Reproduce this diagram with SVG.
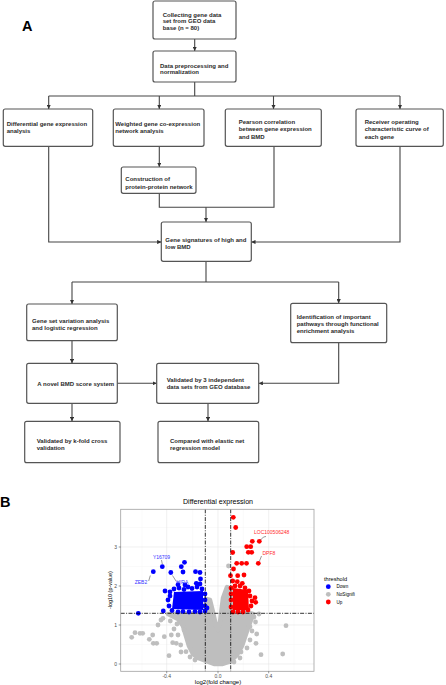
<svg xmlns="http://www.w3.org/2000/svg" width="446" height="685" viewBox="0 0 446 685">
<defs>
<marker id="ah" viewBox="0 0 10 10" refX="10" refY="5" markerWidth="4.2" markerHeight="4.2" orient="auto" markerUnits="userSpaceOnUse"><path d="M0,0 L10,5 L0,10 Z" fill="#333"/></marker>
<style>
.box{fill:#fff;stroke:#555;stroke-width:1.2}
.t{font-family:"Liberation Sans",Arial,sans-serif;font-weight:bold;font-size:6px;fill:#2b2b2b}
.c{fill:none;stroke:#444;stroke-width:1.1}
.ca{fill:none;stroke:#444;stroke-width:1.1;marker-end:url(#ah)}
.big{font-family:"Liberation Sans",Arial,sans-serif;font-weight:bold;font-size:14.5px;fill:#000}
.ax{font-family:"Liberation Sans",Arial,sans-serif;font-size:5px;fill:#4d4d4d}
.at{font-family:"Liberation Sans",Arial,sans-serif;font-size:6px;fill:#000}
.gmaj{stroke:#e6e6e6;stroke-width:0.6}
.gmin{stroke:#f3f3f3;stroke-width:0.4}
.dd{stroke:#000;stroke-width:0.8;stroke-dasharray:4 1.4 1 1.4;fill:none}
.g{fill:#bebebe}
.b{fill:#0000ff}
.r{fill:#ff0000}
.lb{font-family:"Liberation Sans",Arial,sans-serif;font-size:5px;fill:#3333ff}
.lr{font-family:"Liberation Sans",Arial,sans-serif;font-size:5px;fill:#ff2a2a}
.ld{font-family:"Liberation Sans",Arial,sans-serif;font-size:4.6px;fill:#000}
</style>
</defs>
<rect width="446" height="685" fill="#fff"/>
<text class="big" x="22" y="30.5">A</text>

<g id="connectors">
<path class="ca" d="M194.7,39 V51"/>
<path class="c" d="M194.7,82 V96 M48.7,96 H400"/>
<path class="ca" d="M48.7,96 V109"/>
<path class="ca" d="M159.3,96 V109"/>
<path class="ca" d="M273.5,96 V109"/>
<path class="ca" d="M400,96 V109"/>
<path class="ca" d="M159.3,146.3 V167"/>
<path class="c" d="M159.3,193.3 V207.3 H274 V146.3"/>
<path class="ca" d="M206,207.3 V222"/>
<path class="ca" d="M48.7,146.3 V242 H161.3"/>
<path class="ca" d="M400,146.3 V242 H251.3"/>
<path class="c" d="M206,261.3 V282 M72,282 H338.7"/>
<path class="ca" d="M72,282 V304"/>
<path class="ca" d="M338.7,282 V303.3"/>
<path class="ca" d="M72,340.7 V363.3"/>
<path class="ca" d="M117.3,383.3 H156.7"/>
<path class="ca" d="M338.7,342.7 V383.3 H258.7"/>
<path class="ca" d="M72,403.3 V421.3"/>
<path class="ca" d="M208,403.3 V421.3"/>
</g>

<g id="n1"><rect class="box" x="153" y="1" width="83" height="38" rx="2"/>
<text class="t" x="162.7" y="16.7">Collecting gene data</text><text class="t" x="162.7" y="23.3">set from GEO data</text><text class="t" x="162.7" y="30">base (n = 80)</text></g>
<g id="n2"><rect class="box" x="153" y="51" width="83" height="31" rx="2"/>
<text class="t" x="160" y="67.7">Data preprocessing and</text><text class="t" x="160" y="74.3">normalization</text></g>
<g id="n3"><rect class="box" x="3.3" y="109" width="89.4" height="37.3" rx="2"/>
<text class="t" x="6.7" y="126">Differential gene expression</text><text class="t" x="6.7" y="133.3">analysis</text></g>
<g id="n4"><rect class="box" x="113.3" y="109" width="90.7" height="37.3" rx="2"/>
<text class="t" x="115.3" y="126">Weighted gene co-expression</text><text class="t" x="115.3" y="133.3">network analysis</text></g>
<g id="n5"><rect class="box" x="225.3" y="109" width="96" height="37.3" rx="2"/>
<text class="t" x="238.7" y="124">Pearson correlation</text><text class="t" x="238.7" y="131.3">between gene expression</text><text class="t" x="238.7" y="138.7">and BMD</text></g>
<g id="n6"><rect class="box" x="356" y="109" width="87.3" height="37.3" rx="2"/>
<text class="t" x="364.7" y="124">Receiver operating</text><text class="t" x="364.7" y="131.3">characteristic curve of</text><text class="t" x="364.7" y="138.7">each gene</text></g>
<g id="n7"><rect class="box" x="121.3" y="167" width="74.7" height="26.3" rx="2"/>
<text class="t" x="125.3" y="181.3">Construction of</text><text class="t" x="125.3" y="189">protein-protein network</text></g>
<g id="n8"><rect class="box" x="161.3" y="222" width="90" height="39.3" rx="2"/>
<text class="t" x="165.3" y="242">Gene signatures of high and</text><text class="t" x="165.3" y="249.3">low BMD</text></g>
<g id="n9"><rect class="box" x="26.7" y="304" width="90.6" height="36.7" rx="2"/>
<text class="t" x="32" y="322.7">Gene set variation analysis</text><text class="t" x="32" y="330">and logistic regression</text></g>
<g id="n10"><rect class="box" x="290.7" y="303.3" width="96" height="39.4" rx="2"/>
<text class="t" x="296.7" y="318.7">Identification of important</text><text class="t" x="296.7" y="326">pathways through functional</text><text class="t" x="296.7" y="333.3">enrichment analysis</text></g>
<g id="n11"><rect class="box" x="26.7" y="363.3" width="90.6" height="40" rx="2"/>
<text class="t" x="37.3" y="386.3">A novel BMD score system</text></g>
<g id="n12"><rect class="box" x="156.7" y="363.3" width="102" height="40" rx="2"/>
<text class="t" x="166.7" y="382">Validated by 3 independent</text><text class="t" x="166.7" y="389.3">data sets from GEO database</text></g>
<g id="n13"><rect class="box" x="24.7" y="421.3" width="95.3" height="41.4" rx="2"/>
<text class="t" x="36.7" y="442.7">Validated by k-fold cross</text><text class="t" x="36.7" y="450">validation</text></g>
<g id="n14"><rect class="box" x="158" y="421.3" width="100.7" height="41.4" rx="2"/>
<text class="t" x="170" y="442.7">Compared with elastic net</text><text class="t" x="170" y="450">regression model</text></g>

<text class="big" x="0" y="506.5">B</text>
<g id="volcano">
<text x="218" y="504" text-anchor="middle" style="font-family:'Liberation Sans',Arial,sans-serif;font-size:7.1px;fill:#000">Differential expression</text>
<g class="grid">
<path class="gmin" d="M142,509.3 V671.3 M192.7,509.3 V671.3 M243.3,509.3 V671.3 M294,509.3 V671.3 M120.7,644.5 H314 M120.7,605.5 H314 M120.7,566.5 H314 M120.7,527.5 H314"/>
<path class="gmaj" d="M166.7,509.3 V671.3 M218,509.3 V671.3 M268.7,509.3 V671.3 M120.7,664 H314 M120.7,625 H314 M120.7,586 H314 M120.7,547 H314"/>
</g>
<path class="g" stroke="#bebebe" stroke-width="4.5" stroke-linejoin="round" d="M168,614 L205,614 L206,599 L210,600 L213,612 L216,626 L218,630 L220,622 L223,598 L227,587 L231,589 L235,605 L245,612 L253,614 L251,620 L248,628 L245,637 L242,646 L237,655 L231,661 L222,664 L214,664 L206,661 L198,658 L193,654 L189,646 L186,636 L183,626 L178,619 Z"/>
<g class="g">
<circle cx="131.7" cy="637.3" r="2.4"/><circle cx="135" cy="632.7" r="2.4"/><circle cx="140" cy="633.3" r="2.4"/><circle cx="142.7" cy="633.3" r="2.4"/><circle cx="149.3" cy="639.3" r="2.4"/><circle cx="153.3" cy="643.3" r="2.4"/><circle cx="156.7" cy="643.3" r="2.4"/><circle cx="152.7" cy="635" r="2.4"/><circle cx="164.3" cy="636.7" r="2.4"/><circle cx="171.3" cy="635" r="2.4"/><circle cx="172.7" cy="642.7" r="2.4"/><circle cx="169" cy="655.7" r="2.4"/><circle cx="161" cy="620" r="2.4"/><circle cx="170.3" cy="621" r="2.4"/><circle cx="158" cy="625" r="2.4"/><circle cx="163" cy="618.3" r="2.4"/><circle cx="176.3" cy="643.3" r="2.4"/><circle cx="180.7" cy="645" r="2.4"/><circle cx="178" cy="635" r="2.4"/><circle cx="186" cy="651.7" r="2.4"/><circle cx="174" cy="629" r="2.4"/><circle cx="181" cy="652" r="2.4"/><circle cx="177" cy="624" r="2.4"/><circle cx="184" cy="630" r="2.4"/><circle cx="190" cy="657" r="2.4"/><circle cx="195" cy="660" r="2.4"/>
<circle cx="286" cy="625.7" r="2.4"/><circle cx="282.7" cy="654" r="2.4"/><circle cx="261" cy="654.7" r="2.4"/><circle cx="256.7" cy="634" r="2.4"/><circle cx="256" cy="643.3" r="2.4"/><circle cx="250" cy="626.7" r="2.4"/><circle cx="254" cy="617" r="2.4"/><circle cx="255.5" cy="622" r="2.4"/><circle cx="250" cy="640" r="2.4"/><circle cx="247" cy="648" r="2.4"/><circle cx="228.5" cy="566" r="2.4"/><circle cx="252" cy="631" r="2.4"/><circle cx="241" cy="652" r="2.4"/><circle cx="207.3" cy="603.3" r="2.4"/><circle cx="259" cy="614" r="2.4"/><circle cx="240" cy="658" r="2.4"/><circle cx="234" cy="662" r="2.4"/>
</g>
<g class="b">
<path d="M174,592 L203,591 L203,610 L172,609 Z"/>
<circle cx="170" cy="592" r="2.4"/><circle cx="174" cy="589" r="2.4"/><circle cx="179" cy="588" r="2.4"/><circle cx="184" cy="589.5" r="2.4"/><circle cx="188" cy="587" r="2.4"/><circle cx="192" cy="588.5" r="2.4"/><circle cx="197" cy="587" r="2.4"/><circle cx="202" cy="589" r="2.4"/><circle cx="205" cy="594" r="2.4"/><circle cx="205" cy="600" r="2.4"/><circle cx="205" cy="606" r="2.4"/><circle cx="205" cy="611" r="2.4"/><circle cx="200" cy="612" r="2.4"/><circle cx="195" cy="611.5" r="2.4"/><circle cx="189" cy="612" r="2.4"/><circle cx="183" cy="611.5" r="2.4"/><circle cx="178" cy="612" r="2.4"/><circle cx="172" cy="610.5" r="2.4"/><circle cx="169" cy="606" r="2.4"/><circle cx="168" cy="600" r="2.4"/><circle cx="170" cy="596" r="2.4"/>
<circle cx="184.5" cy="562.3" r="2.4"/><circle cx="181.3" cy="566.7" r="2.4"/><circle cx="162.3" cy="566.7" r="2.4"/><circle cx="153.3" cy="571.7" r="2.4"/><circle cx="170.8" cy="572.5" r="2.4"/><circle cx="183" cy="572" r="2.4"/><circle cx="195.5" cy="571.7" r="2.4"/><circle cx="200" cy="572.5" r="2.4"/><circle cx="138.3" cy="613.3" r="2.4"/><circle cx="163.3" cy="611" r="2.4"/><circle cx="165" cy="591" r="2.4"/><circle cx="178" cy="584.7" r="2.4"/><circle cx="196.3" cy="583.3" r="2.4"/><circle cx="200" cy="584" r="2.4"/><circle cx="185" cy="585" r="2.4"/><circle cx="200.5" cy="579" r="2.4"/><circle cx="207" cy="608" r="2.4"/>
</g>
<g class="r">
<path d="M233,588 L248,590 L249,610 L233,610 Z"/>
<circle cx="231" cy="588" r="2.4"/><circle cx="235" cy="586" r="2.4"/><circle cx="240" cy="586" r="2.4"/><circle cx="245" cy="588" r="2.4"/><circle cx="249" cy="591" r="2.4"/><circle cx="250" cy="596" r="2.4"/><circle cx="252" cy="601" r="2.4"/><circle cx="251" cy="606" r="2.4"/><circle cx="248" cy="610" r="2.4"/><circle cx="243" cy="612" r="2.4"/><circle cx="238" cy="612" r="2.4"/><circle cx="233" cy="612" r="2.4"/><circle cx="231" cy="607" r="2.4"/><circle cx="231" cy="600" r="2.4"/><circle cx="231" cy="594" r="2.4"/>
<circle cx="233.3" cy="517.3" r="2.4"/><circle cx="235.7" cy="527.5" r="2.4"/><circle cx="232.7" cy="552.5" r="2.4"/><circle cx="252.3" cy="541.3" r="2.4"/><circle cx="259.3" cy="541.3" r="2.4"/><circle cx="246.7" cy="546.7" r="2.4"/><circle cx="250.7" cy="546.7" r="2.4"/><circle cx="248.3" cy="552.3" r="2.4"/><circle cx="251.7" cy="552.3" r="2.4"/><circle cx="236.7" cy="563.3" r="2.4"/><circle cx="241.7" cy="563.3" r="2.4"/><circle cx="246.5" cy="563.3" r="2.4"/><circle cx="258.3" cy="563.3" r="2.4"/><circle cx="233.5" cy="569" r="2.4"/><circle cx="230.5" cy="575.7" r="2.4"/><circle cx="237.7" cy="575.7" r="2.4"/><circle cx="244" cy="575" r="2.4"/><circle cx="232.7" cy="581" r="2.4"/><circle cx="237.3" cy="581.7" r="2.4"/><circle cx="242.3" cy="583.3" r="2.4"/><circle cx="255" cy="597.7" r="2.4"/><circle cx="255.7" cy="602.3" r="2.4"/>
</g>
<path class="dd" d="M205.3,509.3 V671.3 M230.7,509.3 V671.3 M120.7,613.3 H314"/>
<g fill="none" stroke="#333" stroke-width="0.5">
<path d="M161.5,560 L162.3,564"/><path d="M148.7,581 L150.3,575.5"/><path d="M172.5,575.5 L176.3,581.5"/>
<path d="M260.5,540 L263.5,537 L266,536.5"/><path d="M259.5,561 L261.5,556"/>
</g>
<text class="lb" x="161.5" y="559" text-anchor="middle">Y16709</text>
<text class="lb" x="134.7" y="584">ZEB2</text>
<text class="lb" x="176.3" y="584">HIRA</text>
<text class="lr" x="254" y="534">LOC100506248</text>
<text class="lr" x="262.5" y="555.3">DPF8</text>
<rect x="120.7" y="509.3" width="193.3" height="162" fill="none" stroke="#a0a0a0" stroke-width="0.8"/>
<path stroke="#333" stroke-width="0.5" d="M118.7,664 H120.7 M118.7,625 H120.7 M118.7,586 H120.7 M118.7,547 H120.7 M166.7,671.3 V673.3 M218,671.3 V673.3 M268.7,671.3 V673.3"/>
<text class="ax" x="117" y="665.8" text-anchor="end">0</text>
<text class="ax" x="117" y="626.8" text-anchor="end">1</text>
<text class="ax" x="117" y="587.8" text-anchor="end">2</text>
<text class="ax" x="117" y="548.8" text-anchor="end">3</text>
<text class="ax" x="166.7" y="678.3" text-anchor="middle">-0.4</text>
<text class="ax" x="218" y="678.3" text-anchor="middle">0.0</text>
<text class="ax" x="268.7" y="678.3" text-anchor="middle">0.4</text>
<text class="at" x="218" y="684.3" text-anchor="middle">log2(fold change)</text>
<text class="at" transform="translate(112,590) rotate(-90)" text-anchor="middle" style="font-size:5.4px">-log10 (p-value)</text>
<g id="legend">
<text x="324" y="580.5" style="font-family:'Liberation Sans',Arial,sans-serif;font-size:5.6px;fill:#000">threshold</text>
<circle cx="328.3" cy="586.7" r="2.4" fill="#0000ff"/>
<circle cx="328.3" cy="594.3" r="2.4" fill="#bebebe"/>
<circle cx="328.3" cy="602" r="2.4" fill="#ff0000"/>
<text class="ld" x="336.5" y="588.4">Down</text>
<text class="ld" x="336.5" y="596">NoSignifi</text>
<text class="ld" x="336.5" y="603.7">Up</text>
</g>
</g>
</svg>
